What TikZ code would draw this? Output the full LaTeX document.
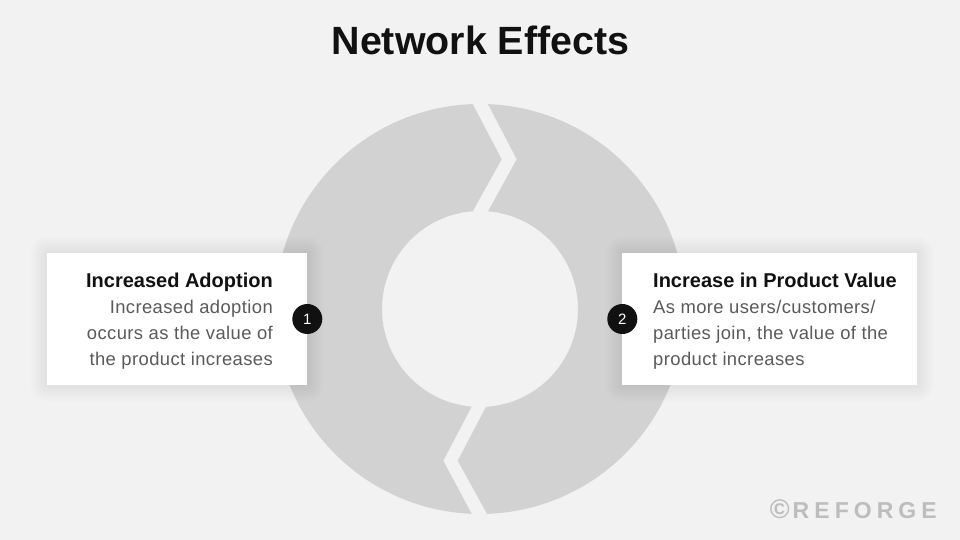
\documentclass[tikz,border=0pt]{standalone}
\usepackage{fontspec}
\usepackage{xcolor}
\setmainfont{Liberation Sans}
\newfontfamily\bodyfont[LetterSpace=2.2]{Liberation Sans}
\newfontfamily\markfont[LetterSpace=22]{Liberation Sans}
\usetikzlibrary{positioning,calc}

\definecolor{pagegray}{HTML}{F2F2F2}
\definecolor{ringgray}{HTML}{D2D2D2}
\definecolor{inkblack}{HTML}{111111}
\definecolor{bodygray}{HTML}{5A5A5A}
\definecolor{markgray}{HTML}{BDBDBD}

\begin{document}
\begin{tikzpicture}
[x=1pt,y=1pt]
\tikzset{
	ringpart/.style = {fill = ringgray, draw = none},
	card/.style = {fill = white, draw = none, minimum height = 132.6pt, inner sep = 0},
	badge/.style = {circle, fill = inkblack, minimum size = 30pt, inner sep = 0, text = white, font = \fontsize{15}{15}\selectfont},
	heading/.style = {text = inkblack, inner sep = 0, font = \fontsize{20}{26}\selectfont\bfseries},
	body/.style = {text = bodygray, inner sep = 0, font = \fontsize{18.4}{26}\bodyfont}
}

\fill [pagegray] (0,0) rectangle (960,540);
\useasboundingbox (0,0) rectangle (960,540);

\coordinate (c) at (480,231);

% ring, in two parts
\fill [ringpart] ($(c)+(87.76:205)$) arc [start angle=87.76, end angle=-88.04, radius=205]
	-- (457.7,79.3) -- ($(c)+(-86.5:98)$) arc [start angle=-86.5, end angle=85.3, radius=98]
	-- (516.7,380.7) -- cycle;
\fill [ringpart] ($(c)+(92.04:205)$) arc [start angle=92.04, end angle=267.68, radius=205]
	-- (443.3,79.3) -- ($(c)+(265.1:98)$) arc [start angle=265.1, end angle=94.27, radius=98]
	-- (501.7,380.7) -- cycle;

% soft shadows under the cards
\foreach \s in {2,4,...,16}{
	\fill [black, opacity=0.007, rounded corners=\s pt] (46.7-\s,154.7-\s) rectangle (307.3+\s,287.3+\s);
	\fill [black, opacity=0.007, rounded corners=\s pt] (622-\s,154.7-\s) rectangle (917.3+\s,287.3+\s);
}

\node (title) [anchor=base, inner sep=0, text=inkblack, font=\fontsize{39.4}{39}\selectfont\bfseries] at (480.5,485) {Network Effects};

\node (adoption) [card, minimum width=260.6pt] at (177,221) {};
\node (value) [card, minimum width=295.3pt] at (769.65,221) {};

\node (adoptionhead) [heading, anchor=base east] at (273,252) {Increased Adoption};
\node (adoptionline1) [body, anchor=base east] at (273,226) {Increased adoption};
\node (adoptionline2) [body, anchor=base east] at (273,200) {occurs as the value of};
\node (adoptionline3) [body, anchor=base east] at (273,174) {the product increases};

\node (valuehead) [heading, anchor=base west] at (653,252) {Increase in Product Value};
\node (valueline1) [body, anchor=base west] at (653,226) {As more users/customers/};
\node (valueline2) [body, anchor=base west] at (653,200) {parties join, the value of the};
\node (valueline3) [body, anchor=base west] at (653,174) {product increases};

\node (one) [badge] at (307.3,221) {1};
\node (two) [badge] at (622.3,221) {2};

\node (mark) [anchor=base east, inner sep=0, text=markgray, font=\fontsize{23}{23}\markfont\bfseries] at (937,21) {{\fontsize{27}{27}\selectfont ©}\hspace{3pt}REFORGE};

\end{tikzpicture}
\end{document}
